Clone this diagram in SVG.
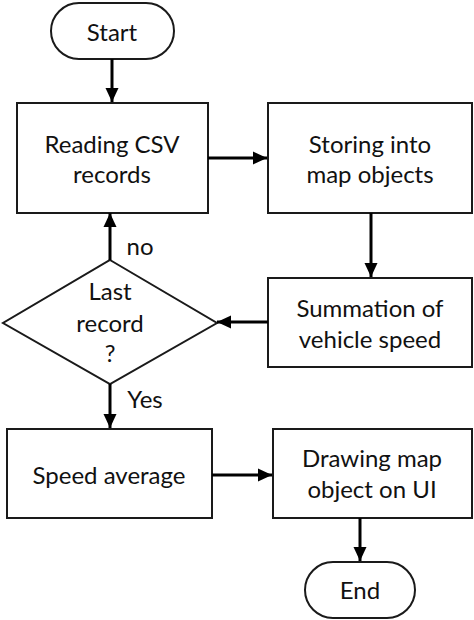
<svg xmlns="http://www.w3.org/2000/svg" width="474" height="620" viewBox="0 0 474 620">
<style>
.shape{fill:#fff;stroke:#1a1a1a;stroke-width:2}
.t{font-family:Lato,"Noto Sans",sans-serif;font-size:24px;fill:#111;text-anchor:middle}
.c{fill:none;stroke:#000;stroke-width:3}
</style>
<defs>
<marker id="ah" markerUnits="userSpaceOnUse" markerWidth="15" markerHeight="15" viewBox="0 0 15 15" refX="14" refY="7.5" orient="auto">
<path d="M0,1 L14,7.5 L0,14 Z" fill="#000"/>
</marker>
</defs>
<g id="start"><rect class="shape" x="51" y="3" width="123" height="56" rx="28"/><text class="t" x="112" y="41">Start</text></g>
<g id="reading"><rect class="shape" x="17" y="103" width="191" height="110"/><text class="t" x="112" y="153">Reading CSV</text><text class="t" x="112" y="183">records</text></g>
<g id="storing"><rect class="shape" x="268" y="103" width="204" height="110"/><text class="t" x="370" y="153">Storing into</text><text class="t" x="370" y="183">map objects</text></g>
<g id="summation"><rect class="shape" x="268" y="278" width="204" height="89"/><text class="t" x="370" y="317">Summation of</text><text class="t" x="370" y="348">vehicle speed</text></g>
<g id="decision"><polygon class="shape" points="110,260 217,323 110,384 3,323"/><text class="t" x="110" y="300">Last</text><text class="t" x="110" y="332">record</text><text class="t" x="110" y="362">?</text></g>
<g id="average"><rect class="shape" x="7" y="429" width="205" height="89"/><text class="t" x="109" y="484">Speed average</text></g>
<g id="drawing"><rect class="shape" x="273" y="429" width="199" height="89"/><text class="t" x="372" y="467">Drawing map</text><text class="t" x="372" y="498">object on UI</text></g>
<g id="end"><rect class="shape" x="305" y="562" width="110" height="56" rx="28"/><text class="t" x="360" y="599">End</text></g>
<g id="connectors">
<line class="c" x1="112" y1="59" x2="112" y2="102" marker-end="url(#ah)"/>
<line class="c" x1="208" y1="158" x2="267" y2="158" marker-end="url(#ah)"/>
<line class="c" x1="371" y1="213" x2="371" y2="277" marker-end="url(#ah)"/>
<line class="c" x1="268" y1="322" x2="217" y2="322" marker-end="url(#ah)"/>
<line class="c" x1="110" y1="260" x2="110" y2="213" marker-end="url(#ah)"/>
<line class="c" x1="110" y1="384" x2="110" y2="428" marker-end="url(#ah)"/>
<line class="c" x1="212" y1="475" x2="272" y2="475" marker-end="url(#ah)"/>
<line class="c" x1="360" y1="518" x2="360" y2="561" marker-end="url(#ah)"/>
<text class="t" x="140" y="255">no</text>
<text class="t" x="145" y="408">Yes</text>
</g>
</svg>
